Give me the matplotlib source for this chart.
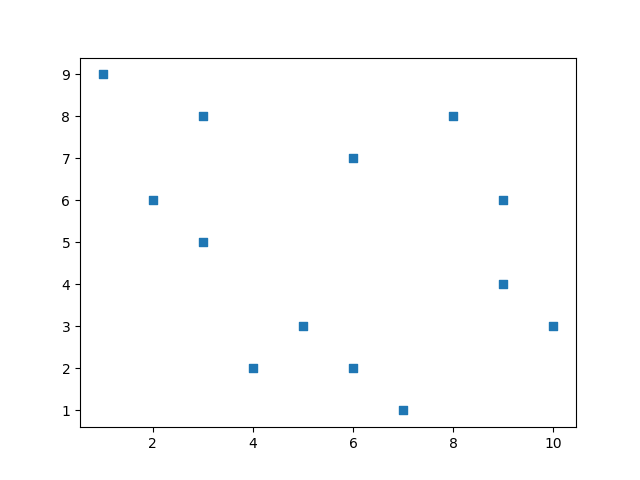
import matplotlib
matplotlib.use("Agg")
import matplotlib.pyplot as plt

# data
x_values = [1, 2, 3, 3, 4, 5, 6, 6, 7, 8, 9, 9, 10]
y_values = [9, 6, 8, 5, 2, 3, 7, 2, 1, 8, 6, 4, 3]

fig, ax = plt.subplots(figsize=(6.4, 4.8), dpi=100)

ax.scatter(x_values, y_values, marker="s")

fig.savefig("out.png")
